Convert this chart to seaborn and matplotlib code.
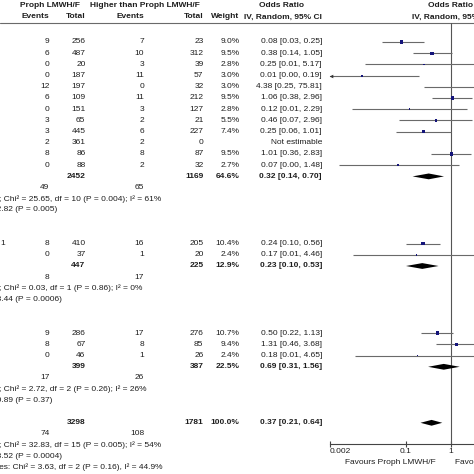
import numpy as np
import pandas as pd
import matplotlib
matplotlib.use("Agg")
import matplotlib.pyplot as plt
import seaborn as sns

# ---------------- data ----------------
# subgroup 1
g1_events_a = [9, 6, 0, 0, 12, 6, 0, 3, 3, 2, 8, 0]
g1_total_a = [256, 487, 20, 187, 197, 109, 151, 65, 445, 361, 86, 88]
g1_events_b = [7, 10, 3, 11, 0, 11, 3, 2, 6, 2, 8, 2]
g1_total_b = [23, 312, 39, 57, 32, 212, 127, 21, 227, 0, 87, 32]
g1_weight = [9.0, 9.5, 2.8, 3.0, 3.0, 9.5, 2.8, 5.5, 7.4, np.nan, 9.5, 2.7]
g1_or = [0.08, 0.38, 0.25, 0.0105, 4.38, 1.06, 0.12, 0.46, 0.25, np.nan, 1.01, 0.066]
g1_lo = [0.03, 0.14, 0.012, 0.0005, 0.25, 0.38, 0.0062, 0.07, 0.06, np.nan, 0.36, 0.0032]
g1_hi = [0.25, 1.05, 5.17, 0.19, 75.81, 2.96, 2.29, 2.96, 1.01, np.nan, 2.83, 1.48]

# subgroup 2
g2_events_a = [8, 0]
g2_total_a = [410, 37]
g2_events_b = [16, 1]
g2_total_b = [205, 20]
g2_weight = [10.4, 2.4]
g2_or = [0.24, 0.17]
g2_lo = [0.10, 0.0066]
g2_hi = [0.56, 4.46]

# subgroup 3
g3_events_a = [9, 8, 0]
g3_total_a = [286, 67, 46]
g3_events_b = [17, 8, 1]
g3_total_b = [276, 85, 26]
g3_weight = [10.7, 9.4, 2.4]
g3_or = [0.50, 1.31, 0.18]
g3_lo = [0.22, 0.46, 0.0074]
g3_hi = [1.13, 3.68, 4.65]

# subtotals
sub_total_a = [2452, 447, 399]
sub_total_b = [1169, 225, 387]
sub_events_a = [49, 8, 17]
sub_events_b = [65, 17, 26]
sub_weight = [64.6, 12.9, 22.5]
sub_or = [0.32, 0.23, 0.69]
sub_lo = [0.14, 0.10, 0.31]
sub_hi = [0.70, 0.53, 1.56]
sub_chi2 = ["25.65", "0.03", "2.72"]
sub_df = [10, 1, 2]
sub_phet = ["0.004", "0.86", "0.26"]
sub_i2 = ["61%", "0%", "26%"]
sub_z = ["2.82", "3.44", "0.89"]
sub_pz = ["0.005", "0.0006", "0.37"]

# overall
tot_total_a, tot_total_b = 3298, 1781
tot_events_a, tot_events_b = 74, 108
tot_weight = 100.0
tot_or, tot_lo, tot_hi = 0.37, 0.21, 0.64
tot_chi2, tot_df, tot_phet, tot_i2 = "32.83", 15, "0.005", "54%"
tot_z, tot_pz = "3.52", "0.0004"
diff_chi2, diff_df, diff_p, diff_i2 = "3.63", 2, "0.16", "44.9%"

x_ticks = [0.002, 0.1, 1, 10, 500]
x_tick_labels = ["0.002", "0.1", "1", "10", "500"]
label_left = "Favours Proph LMWH/F"
label_right = "Favours Higher than Proph LMWH/F"

# ---------------- style ----------------
sns.set_style("white")
plt.rcParams['font.family'] = ['Liberation Sans', 'DejaVu Sans']
FS = 6.05
TXT = "#1e1e1e"
LINE = "#6a6a6a"
MARK = "#14147a"

W = H = 474
fig = plt.figure(figsize=(W / 100, H / 100), dpi=100)
fig.patch.set_facecolor("white")

Y0, DY = 42.0, 11.2          # pixel y of row 0 and row spacing
def prow(py):
    return (py - Y0) / DY

tax = fig.add_axes([0, 0, 1, 1])
tax.set_xlim(0, W)
tax.set_ylim(prow(H), prow(0))
tax.axis("off")

# forest axes (extends beyond the right edge of the figure, as in the cropped original)
x_left_px, x_right_px = 329.5, 572.5
top_px, bot_px = 23.0, 444.0
fax = fig.add_axes([x_left_px / W, 1 - bot_px / H, (x_right_px - x_left_px) / W, (bot_px - top_px) / H])
fax.set_facecolor("none")
fax.set_xscale("log")
fax.set_xlim(0.002, 500)
fax.set_ylim(prow(bot_px), prow(top_px))

# column x positions (right aligned)
X_EA, X_TA, X_EB, X_TB, X_W, X_CI = 49.5, 85.5, 144, 203.5, 239.5, 322
X_FOOT = -101.5

def t(x, r, s, ha="right", bold=False, **kw):
    tax.text(x, r, s, ha=ha, va="center", fontsize=FS, color=TXT,
             fontweight="bold" if bold else "normal", **kw)

def fmt_ci(o, l, h):
    return f"{o:.2f} [{l:.2f}, {h:.2f}]"

# headers
rh1, rh2 = prow(6), prow(17)
t(50, rh1, "Proph LMWH/F", ha="center", bold=True)
t(144.5, rh1, "Higher than Proph LMWH/F", ha="center", bold=True)
t(X_EA, rh2, "Events", bold=True)
t(X_TA, rh2, "Total", bold=True)
t(X_EB, rh2, "Events", bold=True)
t(X_TB, rh2, "Total", bold=True)
t(X_W, rh2, "Weight", bold=True)
t(282, rh1, "Odds Ratio", ha="center", bold=True)
t(X_CI, rh2, "IV, Random, 95% CI", bold=True)
t(451, rh1, "Odds Ratio", ha="center", bold=True)
t(451, rh2, "IV, Random, 95% CI", ha="center", bold=True)
tax.plot([0, W], [prow(top_px), prow(top_px)], color=LINE, lw=0.8)

groups = [
    (g1_events_a, g1_total_a, g1_events_b, g1_total_b, g1_weight, g1_or, g1_lo, g1_hi),
    (g2_events_a, g2_total_a, g2_events_b, g2_total_b, g2_weight, g2_or, g2_lo, g2_hi),
    (g3_events_a, g3_total_a, g3_events_b, g3_total_b, g3_weight, g3_or, g3_lo, g3_hi),
]

recs = []
diamonds = []
row = 0
for gi, (ea, ta, eb, tb, w, o, lo, hi) in enumerate(groups):
    for k in range(len(ea)):
        r = row + k
        t(X_EA, r, str(ea[k])); t(X_TA, r, str(ta[k]))
        t(X_EB, r, str(eb[k])); t(X_TB, r, str(tb[k]))
        if np.isnan(o[k]):
            t(X_CI, r, "Not estimable")
        else:
            t(X_W, r, f"{w[k]:.1f}%")
            t(X_CI, r, fmt_ci(o[k], lo[k], hi[k]))
            recs.append(dict(row=r, orv=o[k], lo=lo[k], hi=hi[k], weight=w[k]))
    r = row + len(ea)
    t(X_FOOT, r, "Subtotal (95% CI)", ha="left", bold=True)
    t(X_TA, r, str(sub_total_a[gi]), bold=True)
    t(X_TB, r, str(sub_total_b[gi]), bold=True)
    t(X_W, r, f"{sub_weight[gi]:.1f}%", bold=True)
    t(X_CI, r, fmt_ci(sub_or[gi], sub_lo[gi], sub_hi[gi]), bold=True)
    diamonds.append((r, sub_or[gi], sub_lo[gi], sub_hi[gi]))
    t(X_FOOT, r + 1, "Total events", ha="left")
    t(X_EA, r + 1, str(sub_events_a[gi])); t(X_EB, r + 1, str(sub_events_b[gi]))
    t(-1.5, r + 2, f"; Chi\u00b2 = {sub_chi2[gi]}, df = {sub_df[gi]} (P = {sub_phet[gi]}); I\u00b2 = {sub_i2[gi]}", ha="left")
    t(X_FOOT, r + 3, f"Test for overall effect: Z = {sub_z[gi]} (P = {sub_pz[gi]})", ha="left")
    row = r + 3 + (3 if gi < len(groups) - 1 else 2)

# study name fragment visible at the left edge
t(5.5, 18, "1")

# overall
r = row
t(X_FOOT, r, "Total (95% CI)", ha="left", bold=True)
t(X_TA, r, str(tot_total_a), bold=True)
t(X_TB, r, str(tot_total_b), bold=True)
t(X_W, r, f"{tot_weight:.1f}%", bold=True)
t(X_CI, r, fmt_ci(tot_or, tot_lo, tot_hi), bold=True)
diamonds.append((r, tot_or, tot_lo, tot_hi))
t(X_FOOT, r + 1, "Total events", ha="left")
t(X_EA, r + 1, str(tot_events_a)); t(X_EB, r + 1, str(tot_events_b))
t(-1.5, r + 2, f"; Chi\u00b2 = {tot_chi2}, df = {tot_df} (P = {tot_phet}); I\u00b2 = {tot_i2}", ha="left")
t(X_FOOT, r + 3, f"Test for overall effect: Z = {tot_z} (P = {tot_pz})", ha="left")
t(X_FOOT, r + 4, f"Test for subgroup differences: Chi\u00b2 = {diff_chi2}, df = {diff_df} (P = {diff_p}), I\u00b2 = {diff_i2}", ha="left")

# favours labels
rf = prow(463)
t(436, rf, label_left)
t(455, rf, label_right, ha="left")

# ---------------- forest plot ----------------
df = pd.DataFrame(recs)
fax.axvline(1, color="#555555", lw=0.8, zorder=1)
fax.hlines(df["row"], df["lo"], df["hi"], color=LINE, lw=0.8, zorder=2)
# arrows for CIs beyond the left limit
for _, rr in df[df["lo"] < 0.002].iterrows():
    fax.plot([0.00212], [rr["row"]], marker="<", markersize=2.6, color="#333333",
             markeredgewidth=0, zorder=3, clip_on=False)
smin, smax = 0.5715 * 2.4, 0.5715 * 10.7
sns.scatterplot(data=df, x="orv", y="row", size="weight", sizes=(smin, smax),
                size_norm=(2.4, 10.7), marker="s", color=MARK, linewidth=0,
                legend=False, ax=fax, zorder=4)
hh = 2.9 / DY
for (r, o, lo, hi) in diamonds:
    fax.fill([lo, o, hi, o], [r, r - hh, r, r + hh], color="black", lw=0, zorder=4)

fax.set_ylim(prow(bot_px), prow(top_px))
fax.set_xlabel(""); fax.set_ylabel("")
for s in ["top", "left", "right"]:
    fax.spines[s].set_visible(False)
fax.spines["bottom"].set_color("#444444")
fax.spines["bottom"].set_linewidth(0.8)
fax.set_yticks([])
fax.set_xticks(x_ticks)
fax.set_xticklabels(x_tick_labels)
fax.xaxis.set_minor_locator(matplotlib.ticker.NullLocator())
fax.tick_params(axis="x", direction="inout", length=4, width=0.8, color="#444444",
                labelsize=FS, labelcolor=TXT, pad=1.2, bottom=True)
fax.get_xticklabels()[0].set_ha("left")

fig.savefig("out.png", dpi=100, facecolor="white")
